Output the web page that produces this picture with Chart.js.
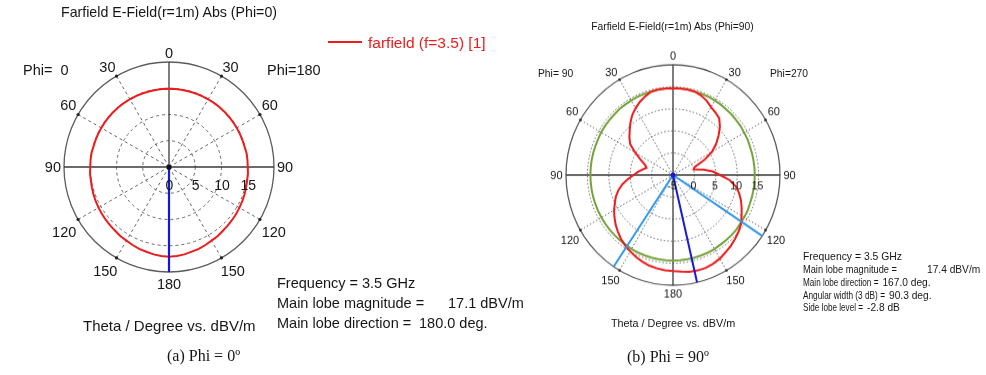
<!DOCTYPE html>
<html><head><meta charset="utf-8">
<script src="https://cdn.jsdelivr.net/npm/chart.js@4.4.1/dist/chart.umd.min.js"></script>
<style>
html,body{margin:0;padding:0;background:#fff;}
#wrap{position:relative;width:986px;height:375px;overflow:hidden;font-family:"Liberation Sans",Arial,sans-serif;color:#161616;}
canvas{position:absolute;top:0;}
.t{position:absolute;white-space:pre;line-height:1;transform-origin:0 50%;}
.cap{font-family:"Liberation Serif","Times New Roman",serif;font-size:16px;}
</style></head>
<body><div id="wrap">
<canvas id="c0" width="493" height="375" style="left:0;"></canvas>
<canvas id="c1" width="493" height="375" style="left:493px;transform:scaleY(1.03);transform-origin:0 175px;"></canvas>

<div class="t" style="left:0;width:338px;text-align:center;top:5px;font-size:14.2px;">Farfield E-Field(r=1m) Abs (Phi=0)</div>
<div style="position:absolute;left:328px;top:41px;width:34px;height:2px;background:#ee1c1c;"></div>
<div class="t" style="left:368px;top:34.5px;font-size:15.5px;color:#ee1c1c;">farfield (f=3.5) [1]</div>
<div class="t" style="left:23px;top:63px;font-size:14.5px;">Phi=  0</div>
<div class="t" style="left:267px;top:63px;font-size:14.5px;">Phi=180</div>
<div class="t" style="left:83px;top:317.5px;font-size:15px;">Theta / Degree vs. dBV/m</div>
<div class="t" style="left:277px;top:276px;font-size:14.5px;">Frequency = 3.5 GHz</div>
<div class="t" style="left:277px;top:296px;font-size:14.5px;">Main lobe magnitude =</div>
<div class="t" style="left:448px;top:296px;font-size:14.5px;">17.1 dBV/m</div>
<div class="t" style="left:277px;top:316px;font-size:14.5px;">Main lobe direction =</div>
<div class="t" style="left:419px;top:316px;font-size:14.5px;">180.0 deg.</div>
<div class="t cap" style="left:167px;top:348px;">(a) Phi = 0º</div>

<div class="t" style="left:572.5px;width:200px;text-align:center;top:22px;font-size:10.3px;">Farfield E-Field(r=1m) Abs (Phi=90)</div>
<div class="t" style="left:538px;top:69px;font-size:10.3px;">Phi= 90</div>
<div class="t" style="left:770px;top:69px;font-size:10.3px;">Phi=270</div>
<div class="t" style="left:611px;top:317.7px;font-size:10.8px;">Theta / Degree vs. dBV/m</div>
<div class="t" data-fit="99" style="left:803px;top:252px;font-size:10.2px;">Frequency = 3.5 GHz</div>
<div class="t" data-fit="94" style="left:803px;top:265px;font-size:10.2px;">Main lobe magnitude =</div>
<div class="t" style="left:927px;top:265px;font-size:10.2px;">17.4 dBV/m</div>
<div class="t" data-fit="75" data-val="v1" style="left:803px;top:278px;font-size:10.2px;">Main lobe direction =</div>
<div class="t" id="v1" style="left:881px;top:278px;font-size:10.2px;">167.0 deg.</div>
<div class="t" data-fit="82" data-val="v2" style="left:803px;top:290.5px;font-size:10.2px;">Angular width (3 dB) =</div>
<div class="t" id="v2" style="left:889px;top:290.5px;font-size:10.2px;">90.3 deg.</div>
<div class="t" data-fit="46" data-val="v3" style="left:803px;top:303px;font-size:10.2px;">Side lobe level =</div>
<div class="t" id="v3" style="left:852px;top:303px;font-size:10.2px;">-2.8 dB</div>
<div class="t cap" style="left:627px;top:349px;">(b) Phi = 90º</div>
</div>
<script>
// ---- categories: theta in degrees (5 degree steps) ----
const thetaDeg = [0,5,10,15,20,25,30,35,40,45,50,55,60,65,70,75,80,85,90,95,100,105,110,115,120,125,130,135,140,145,150,155,160,165,170,175,180];

// ---- cut Phi = 0 (left plot), dBV/m ----
const cut0Phi0Side   = [14.9,14.9,14.9,14.9,14.9,14.9,14.9,14.9,14.9,14.9,14.9,14.9,14.9,14.9,14.9,14.9,15.0,15.0,15.0,15.1,15.1,15.2,15.3,15.4,15.5,15.6,15.7,15.8,15.9,16.1,16.2,16.4,16.6,16.7,16.9,17.0,17.1];
const cut0Phi180Side = [14.9,14.9,14.9,14.9,14.9,14.9,14.9,14.9,14.9,14.9,14.9,14.9,14.9,14.9,14.9,14.9,15.0,15.0,15.0,15.1,15.1,15.2,15.3,15.4,15.5,15.6,15.7,15.8,15.9,16.1,16.2,16.4,16.6,16.7,16.9,17.0,17.1];

// ---- cut Phi = 90 (right plot), dBV/m ----
const cut90Phi90Red   = [14.7,14.7,14.7,14.6,14.0,13.3,12.5,11.6,10.5,9.3,8.3,7.2,5.2,3.4,2.0,1.4,2.2,3.2,4.2,5.6,7.0,8.2,9.2,10.0,10.9,11.7,12.5,13.2,13.9,14.5,15.0,15.5,15.9,16.3,16.5,16.7,16.8];
const cut90Phi270Red  = [14.7,14.7,14.7,14.6,14.2,13.6,12.8,12.3,11.8,10.5,8.9,7.3,5.5,3.1,0.4,0.0,2.2,4.3,6.0,8.3,9.9,11.0,11.9,12.7,13.5,14.4,15.0,15.5,16.0,16.4,16.9,17.2,17.4,17.4,17.3,17.0,16.8];
const cut90Phi90Green = [14.7,14.7,14.7,14.6,14.6,14.6,14.5,14.5,14.5,14.4,14.4,14.4,14.4,14.3,14.3,14.3,14.3,14.3,14.3,14.3,14.3,14.3,14.3,14.3,14.3,14.3,14.3,14.3,14.3,14.3,14.4,14.4,14.4,14.4,14.4,14.4,14.4];
const cut90Phi270Green= [14.7,14.7,14.7,14.6,14.6,14.6,14.5,14.5,14.4,14.4,14.3,14.3,14.2,14.2,14.1,14.1,14.1,14.1,14.1,14.1,14.1,14.1,14.1,14.2,14.2,14.2,14.3,14.3,14.3,14.3,14.4,14.4,14.4,14.4,14.4,14.4,14.4];

// ---- radial tick labels ----
const ticksCut0  = [0,5,10,15];
const ticksCut90 = [-5,0,5,10,15];

// ---- main lobe markers (theta, degrees) ----
const cut0MainLobeDir = 180;       // on Phi=180 side
const cut90MainLobeDir = 167;      // on Phi=270 side
const cut90BeamEdge270 = 123.5;    // on Phi=270 side
const cut90BeamEdge90 = 146.3;     // on Phi=90 side

// ring order: right half theta 0..180 (clockwise from top), then left half theta 175..5
function ring(rightVals, leftVals){ return rightVals.concat(leftVals.slice(1, -1).reverse()); }
const ringTheta = ring(thetaDeg, thetaDeg);
const per = 360 / ringTheta.length;

const decor = {
  c0: { markers: [{angle: cut0MainLobeDir, color:'#1616d8', width:2.2}], ticks: ticksCut0,
        labelSize:14.5, labelGap:3, topF:0.45, botF:0.62, tickDx:0.5, tickDy:18, tickSize:14, centerDot:'#111', rimDot:1.6 },
  c1: { markers: [
          {angle: cut90BeamEdge270, color:'#2f97ea', width:2},
          {angle: 360 - cut90BeamEdge90, color:'#2f97ea', width:2},
          {angle: cut90MainLobeDir, color:'#1a1ad2', width:2}],
        ticks: ticksCut90, labelSize:11, labelGap:3.5, topF:0.45, botF:0.45, tickDx:-1, tickDy:10.7, tickSize:10.5, centerDot:'#1a1ad2', rimDot:1.2 }
};

const polarDecor = {
  id: 'polarDecor',
  afterDatasetsDraw(chart) {
    const s = chart.scales.r, ctx = chart.ctx, d = decor[chart.canvas.id];
    ctx.save();
    d.markers.forEach(m => {
      const p = s.getPointPositionForValue(m.angle / per, s.max);
      ctx.strokeStyle = m.color; ctx.lineWidth = m.width;
      ctx.beginPath(); ctx.moveTo(s.xCenter, s.yCenter); ctx.lineTo(p.x, p.y); ctx.stroke();
    });
    ctx.fillStyle = '#222';
    ringTheta.forEach((t, i) => {
      if (t % 30 === 0 && t % 90 !== 0) {
        const p = s.getPointPosition(i, s.drawingArea);
        ctx.beginPath(); ctx.arc(p.x, p.y, d.rimDot, 0, Math.PI*2); ctx.fill();
      }
    });
    ctx.fillStyle = d.centerDot;
    ctx.beginPath(); ctx.arc(s.xCenter, s.yCenter, 2.5, 0, Math.PI*2); ctx.fill();
    ctx.fillStyle = '#161616';
    ctx.textAlign = 'center'; ctx.textBaseline = 'alphabetic';
    ctx.font = d.labelSize + 'px "Liberation Sans", Arial, sans-serif';
    ringTheta.forEach((t, i) => {
      if (t % 30 === 0) {
        const txt = String(t), w = ctx.measureText(txt).width, a = i * per * Math.PI / 180;
        const c = Math.cos(a), sn = Math.sin(a);
        const vf = c >= 0 ? d.topF : d.botF;
        const dist = s.drawingArea + d.labelGap + Math.abs(sn) * w / 2 + Math.abs(c) * d.labelSize * vf;
        const shift = 1.8 * Math.sin(4 * a);
        const p = s.getPointPosition(i + shift / per, dist);
        ctx.fillText(txt, p.x, p.y + d.labelSize * 0.358);
      }
    });
    ctx.font = d.tickSize + 'px "Liberation Sans", Arial, sans-serif';
    d.ticks.forEach(v => {
      ctx.fillText(String(v), s.xCenter + s.getDistanceFromCenterForValue(v) + d.tickDx, s.yCenter + d.tickDy + d.tickSize * 0.358);
    });
    ctx.restore();
  }
};

function makePolar(id, o) {
  return new Chart(document.getElementById(id), {
    type: 'radar',
    data: {
      labels: ringTheta.map(String),
      datasets: o.series.map(sr => ({ data: sr.data, borderColor: sr.color, borderWidth: 2, fill: false,
        pointRadius: 0, pointHoverRadius: 0, tension: 0 }))
    },
    options: {
      responsive: false, animation: false, devicePixelRatio: 1, events: [],
      layout: { padding: o.padding },
      plugins: { legend: {display:false}, tooltip: {enabled:false} },
      scales: { r: {
        min: o.min, max: o.max,
        ticks: { display:false, stepSize:5 },
        pointLabels: { display:false },
        grid: { circular:true,
          color: c => (c.tick && c.tick.value === o.max) ? '#5c5c5c' : '#666',
          lineWidth: c => (c.tick && c.tick.value === o.max) ? 1.3 : 1 },
        border: { dash: c => (c.tick && c.tick.value === o.max) ? [] : o.dash },
        angleLines: { display:true,
          color: c => ringTheta[c.index] % 90 === 0 ? '#3a3a3a' : '#666',
          lineWidth: c => ringTheta[c.index] % 30 === 0 ? (ringTheta[c.index] % 90 === 0 ? 1.3 : 1) : 0,
          borderDash: c => ringTheta[c.index] % 90 === 0 ? [] : o.dash }
      } }
    },
    plugins: [polarDecor]
  });
}

makePolar('c0', {
  min: 0, max: 20, dash: [3,3],
  padding: {left:64, top:62, right:219, bottom:103},
  series: [ {data: ring(cut0Phi180Side, cut0Phi0Side), color:'#ee1c1c'} ]
});
makePolar('c1', {
  min: -5, max: 20, dash: [1.5,2],
  padding: {left:73, top:68, right:206, bottom:93},
  series: [
    {data: ring(cut90Phi270Red, cut90Phi90Red), color:'#ee1c1c'},
    {data: ring(cut90Phi270Green, cut90Phi90Green), color:'#76a23a'}
  ]
});

// fit the right-hand info labels to the widths (never squeezed below 80 %)
document.querySelectorAll('[data-fit]').forEach(el => {
  const w = el.getBoundingClientRect().width;
  const target = parseFloat(el.getAttribute('data-fit'));
  if (w <= 0) return;
  const k = Math.max(0.8, Math.min(1.05, target / w));
  el.style.transform = 'scaleX(' + k.toFixed(3) + ')';
  const vid = el.getAttribute('data-val');
  if (vid) {
    const v = document.getElementById(vid);
    const end = 803 + w * k + 4;
    if (end > parseFloat(v.style.left)) v.style.left = end.toFixed(1) + 'px';
  }
});
</script>
</body></html>
